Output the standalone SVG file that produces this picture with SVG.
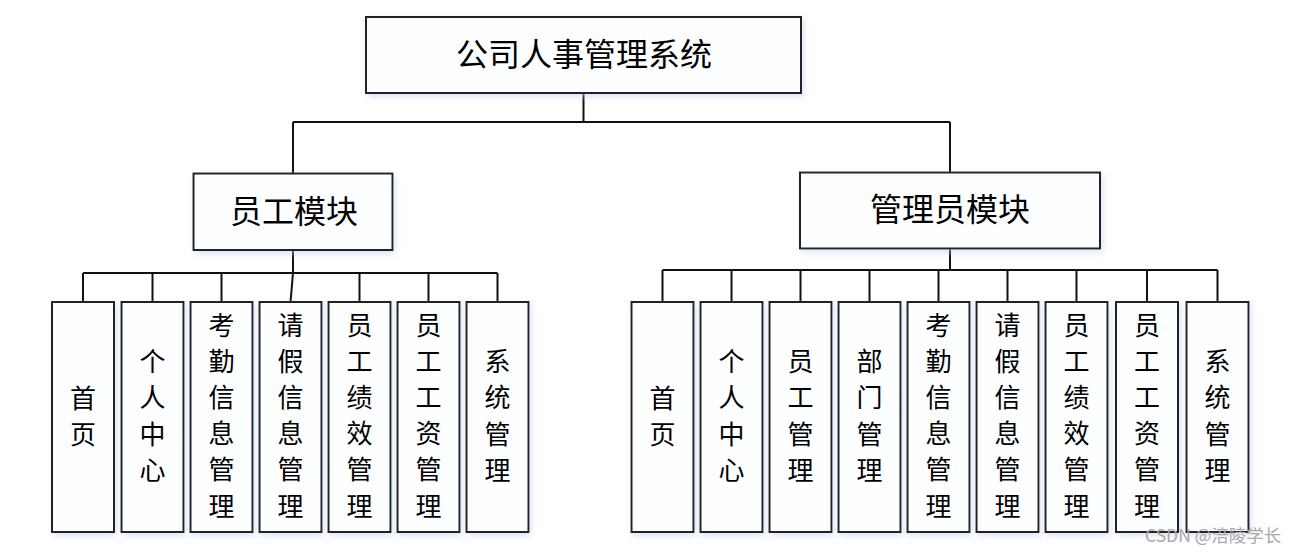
<svg xmlns="http://www.w3.org/2000/svg" width="1296" height="554" viewBox="0 0 1296 554">
<defs>
<filter id="sh" x="-20%" y="-20%" width="140%" height="140%">
<feDropShadow dx="2" dy="3" stdDeviation="3" flood-color="#bcd0ee" flood-opacity="0.55"/>
</filter>
<style>
.box{fill:#fdfeff;stroke:#222;stroke-width:2;filter:url(#sh)}
.t{font-family:"Noto Sans CJK SC","Noto Sans",sans-serif;fill:#000;text-anchor:middle;dominant-baseline:central;transform:translateY(-3px)}
.big{font-size:32px}
.mid{font-size:32px}
.leaf{font-size:26px}
.ln{fill:none;stroke:#111;stroke-width:2}
.wm{font-family:"Noto Sans CJK SC","Liberation Sans",sans-serif;font-size:17.5px;fill:#aaa}
</style>
</defs>
<rect width="1296" height="554" fill="#fff"/>
<g id="connectors">
<path class="ln" d="M583.5,93 V122 M293,122 H950 M293,122 V173 M950,122 V172" stroke-width="2.5"/>
<path class="ln" d="M293,250 V273 M83,273 H497.5 M83,273 V302 M152.5,273 V302 M221.5,273 V302 M293,273 L290.5,302 M359.5,273 V302 M428.5,273 V302 M497.5,273 V302"/>
<path class="ln" d="M950,248 V270 M662.5,270 H1217.5 M662.5,270 V302 M731.5,270 V302 M800.5,270 V302 M869.5,270 V302 M938.5,270 V302 M1007.5,270 V302 M1076.5,270 V302 M1147,270 V302 M1217.5,270 V302"/>
</g>
<g id="root"><rect class="box" x="366" y="17" width="435" height="76"/><text class="t big" x="584" y="55">公司人事管理系统</text></g>
<g id="staff"><rect class="box" x="193.5" y="173.5" width="199" height="76.5"/><text class="t mid" x="294" y="212">员工模块</text></g>
<g id="admin"><rect class="box" x="800" y="172.5" width="300" height="76"/><text class="t mid" x="950" y="210">管理员模块</text></g>

<g id="s1"><rect class="box" x="52" y="302" width="62" height="230"/><text class="t leaf"><tspan x="83" y="399">首</tspan><tspan x="83" y="435">页</tspan></text></g>
<g id="s2"><rect class="box" x="121.5" y="302" width="62" height="230"/><text class="t leaf"><tspan x="152.5" y="362">个</tspan><tspan x="152.5" y="398">人</tspan><tspan x="152.5" y="435">中</tspan><tspan x="152.5" y="471">心</tspan></text></g>
<g id="s3"><rect class="box" x="190.5" y="302" width="62" height="230"/><text class="t leaf"><tspan x="221.5" y="325.5">考</tspan><tspan x="221.5" y="361.7">勤</tspan><tspan x="221.5" y="397.9">信</tspan><tspan x="221.5" y="434.1">息</tspan><tspan x="221.5" y="470.3">管</tspan><tspan x="221.5" y="506.5">理</tspan></text></g>
<g id="s4"><rect class="box" x="259.5" y="302" width="62" height="230"/><text class="t leaf"><tspan x="290.5" y="325.5">请</tspan><tspan x="290.5" y="361.7">假</tspan><tspan x="290.5" y="397.9">信</tspan><tspan x="290.5" y="434.1">息</tspan><tspan x="290.5" y="470.3">管</tspan><tspan x="290.5" y="506.5">理</tspan></text></g>
<g id="s5"><rect class="box" x="328.5" y="302" width="62" height="230"/><text class="t leaf"><tspan x="359.5" y="325.5">员</tspan><tspan x="359.5" y="361.7">工</tspan><tspan x="359.5" y="397.9">绩</tspan><tspan x="359.5" y="434.1">效</tspan><tspan x="359.5" y="470.3">管</tspan><tspan x="359.5" y="506.5">理</tspan></text></g>
<g id="s6"><rect class="box" x="397.5" y="302" width="62" height="230"/><text class="t leaf"><tspan x="428.5" y="325.5">员</tspan><tspan x="428.5" y="361.7">工</tspan><tspan x="428.5" y="397.9">工</tspan><tspan x="428.5" y="434.1">资</tspan><tspan x="428.5" y="470.3">管</tspan><tspan x="428.5" y="506.5">理</tspan></text></g>
<g id="s7"><rect class="box" x="466.5" y="302" width="62" height="230"/><text class="t leaf"><tspan x="497.5" y="362">系</tspan><tspan x="497.5" y="398">统</tspan><tspan x="497.5" y="435">管</tspan><tspan x="497.5" y="471">理</tspan></text></g>

<g id="a1"><rect class="box" x="631.5" y="302" width="62" height="230"/><text class="t leaf"><tspan x="662.5" y="399">首</tspan><tspan x="662.5" y="435">页</tspan></text></g>
<g id="a2"><rect class="box" x="700.5" y="302" width="62" height="230"/><text class="t leaf"><tspan x="731.5" y="362">个</tspan><tspan x="731.5" y="398">人</tspan><tspan x="731.5" y="435">中</tspan><tspan x="731.5" y="471">心</tspan></text></g>
<g id="a3"><rect class="box" x="769.5" y="302" width="62" height="230"/><text class="t leaf"><tspan x="800.5" y="362">员</tspan><tspan x="800.5" y="398">工</tspan><tspan x="800.5" y="435">管</tspan><tspan x="800.5" y="471">理</tspan></text></g>
<g id="a4"><rect class="box" x="838.5" y="302" width="62" height="230"/><text class="t leaf"><tspan x="869.5" y="362">部</tspan><tspan x="869.5" y="398">门</tspan><tspan x="869.5" y="435">管</tspan><tspan x="869.5" y="471">理</tspan></text></g>
<g id="a5"><rect class="box" x="907.5" y="302" width="62" height="230"/><text class="t leaf"><tspan x="938.5" y="325.5">考</tspan><tspan x="938.5" y="361.7">勤</tspan><tspan x="938.5" y="397.9">信</tspan><tspan x="938.5" y="434.1">息</tspan><tspan x="938.5" y="470.3">管</tspan><tspan x="938.5" y="506.5">理</tspan></text></g>
<g id="a6"><rect class="box" x="976.5" y="302" width="62" height="230"/><text class="t leaf"><tspan x="1007.5" y="325.5">请</tspan><tspan x="1007.5" y="361.7">假</tspan><tspan x="1007.5" y="397.9">信</tspan><tspan x="1007.5" y="434.1">息</tspan><tspan x="1007.5" y="470.3">管</tspan><tspan x="1007.5" y="506.5">理</tspan></text></g>
<g id="a7"><rect class="box" x="1045.5" y="302" width="62" height="230"/><text class="t leaf"><tspan x="1076.5" y="325.5">员</tspan><tspan x="1076.5" y="361.7">工</tspan><tspan x="1076.5" y="397.9">绩</tspan><tspan x="1076.5" y="434.1">效</tspan><tspan x="1076.5" y="470.3">管</tspan><tspan x="1076.5" y="506.5">理</tspan></text></g>
<g id="a8"><rect class="box" x="1116" y="302" width="62" height="230"/><text class="t leaf"><tspan x="1147" y="325.5">员</tspan><tspan x="1147" y="361.7">工</tspan><tspan x="1147" y="397.9">工</tspan><tspan x="1147" y="434.1">资</tspan><tspan x="1147" y="470.3">管</tspan><tspan x="1147" y="506.5">理</tspan></text></g>
<g id="a9"><rect class="box" x="1186.5" y="302" width="62" height="230"/><text class="t leaf"><tspan x="1217.5" y="362">系</tspan><tspan x="1217.5" y="398">统</tspan><tspan x="1217.5" y="435">管</tspan><tspan x="1217.5" y="471">理</tspan></text></g>

<text class="wm" x="1145" y="542">CSDN @涪陵学长</text>
</svg>
